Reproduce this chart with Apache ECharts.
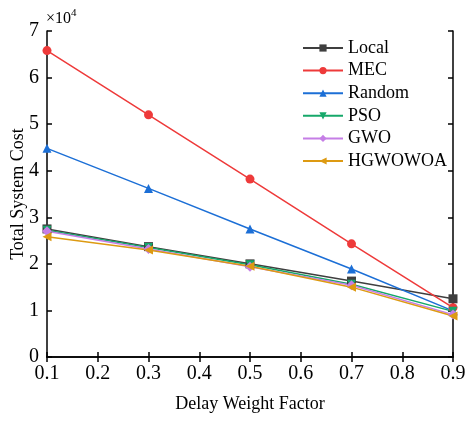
<!DOCTYPE html>
<html><head><meta charset="utf-8">
<script src="https://cdn.jsdelivr.net/npm/echarts@6/dist/echarts.min.js"></script>
<style>html,body{margin:0;padding:0;background:#fff}#c{width:474px;height:421px}</style>
</head><body><div id="c"></div>
<script>
const xValues = [0.1, 0.3, 0.5, 0.7, 0.9];
const seriesNames = ['Local', 'MEC', 'Random', 'PSO', 'GWO', 'HGWOWOA'];
const local = [2.75, 2.37, 2.00, 1.63, 1.25];
const mec = [6.58, 5.20, 3.82, 2.43, 1.06];
const random = [4.48, 3.62, 2.75, 1.89, 0.99];
const pso = [2.72, 2.35, 1.98, 1.56, 0.98];
const gwo = [2.70, 2.32, 1.94, 1.54, 0.91];
const hgwowoa = [2.58, 2.30, 1.95, 1.50, 0.88];
const yTicks = [0, 1, 2, 3, 4, 5, 6, 7];

const colors = ['#3f3f3f', '#ee3a3a', '#1c6fd6', '#16a86a', '#c57ee6', '#dd9a12'];
const symbols = ['rect', 'circle', 'triangle', 'triangle', 'diamond', 'triangle'];
const rotates = [0, 0, 0, 180, 0, 90];
const allData = [local, mec, random, pso, gwo, hgwowoa];
const FONT = 'Liberation Serif';

const chart = echarts.init(document.getElementById('c'));
const axisLine = {show: true, lineStyle: {color: '#000', width: 1.5}};
const tick = {show: true, inside: true, length: 5, lineStyle: {color: '#000', width: 1.5}};
chart.setOption({
  animation: false,
  backgroundColor: '#fff',
  grid: {left: 47, right: 21, top: 31, bottom: 64, containLabel: false, outerBoundsMode: 'none'},
  legend: {
    orient: 'vertical', left: 297, top: 34, itemWidth: 40, itemHeight: 9, itemGap: 4.6,
    data: seriesNames,
    textStyle: {fontFamily: FONT, fontSize: 18, color: '#000'}
  },
  xAxis: [{
    type: 'value', min: 0.1, max: 0.9, interval: 0.1,
    name: 'Delay Weight Factor', nameLocation: 'middle', nameGap: 38, nameMoveOverlap: false,
    nameTextStyle: {fontFamily: FONT, fontSize: 18, color: '#000'},
    axisLine: axisLine, axisTick: tick, splitLine: {show: false},
    axisLabel: {fontFamily: FONT, fontSize: 20, color: '#000', margin: 7, formatter: v => v.toFixed(1)}
  }, {
    type: 'value', position: 'top', min: 0.1, max: 0.9, interval: 0.1,
    axisLine: axisLine, axisTick: tick, axisLabel: {show: false}, splitLine: {show: false}
  }],
  yAxis: [{
    type: 'value', min: yTicks[0], max: yTicks[yTicks.length - 1], interval: 1,
    name: 'Total System Cost', nameLocation: 'middle', nameGap: 20, nameMoveOverlap: false,
    nameTextStyle: {fontFamily: FONT, fontSize: 18, color: '#000'},
    axisLine: axisLine, axisTick: tick, splitLine: {show: false},
    axisLabel: {fontFamily: FONT, fontSize: 20, color: '#000', margin: 8}
  }, {
    type: 'value', position: 'right', min: yTicks[0], max: yTicks[yTicks.length - 1], interval: 1,
    axisLine: axisLine, axisTick: tick, axisLabel: {show: false}, splitLine: {show: false}
  }],
  graphic: [{
    type: 'text', left: 46, top: 8,
    style: {
      text: '{a|×10}{b|4}', fill: '#000',
      rich: {
        a: {fontFamily: FONT, fontSize: 16, fill: '#000', verticalAlign: 'bottom'},
        b: {fontFamily: FONT, fontSize: 11, fill: '#000', verticalAlign: 'top', padding: [0, 0, 8, 0]}
      }
    }
  }],
  series: seriesNames.map((n, i) => ({
    name: n, type: 'line',
    data: xValues.map((x, j) => [x, allData[i][j]]),
    symbol: symbols[i], symbolRotate: rotates[i], symbolSize: i === 4 ? 10 : 9,
    showAllSymbol: true,
    lineStyle: {color: colors[i], width: 1.5},
    itemStyle: {color: colors[i]},
    color: colors[i]
  }))
});
</script></body></html>
